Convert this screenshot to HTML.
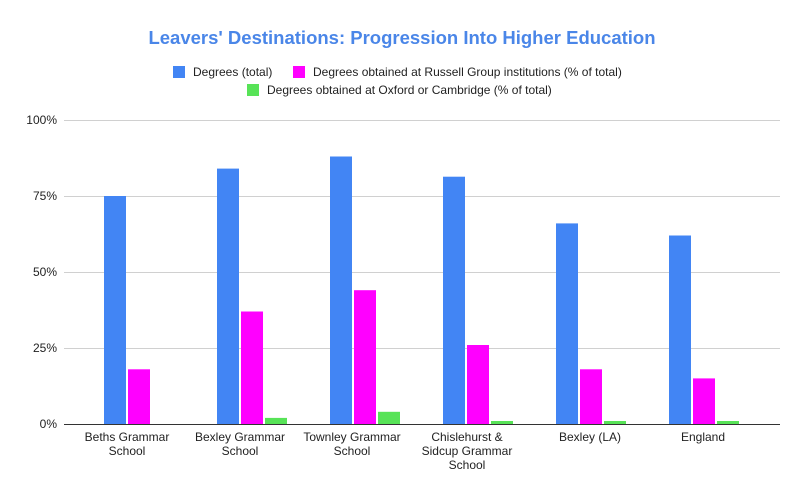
<!DOCTYPE html>
<html><head><meta charset="utf-8"><style>
body{margin:0;background:#fff}
svg{display:block;font-family:"Liberation Sans",Arial,sans-serif}
</style></head><body>
<svg width="804" height="497" viewBox="0 0 804 497" xmlns="http://www.w3.org/2000/svg">
<rect width="804" height="497" fill="#fff"/>
<text x="402" y="44" text-anchor="middle" font-size="18.5" font-weight="bold" fill="#4a86e8">Leavers' Destinations: Progression Into Higher Education</text>
<rect x="173" y="66" width="12" height="12" fill="#4285f4"/>
<text x="193" y="76" font-size="12" fill="#222">Degrees (total)</text>
<rect x="293" y="66" width="12" height="12" fill="#ff00ff"/>
<text x="313" y="76" font-size="12" fill="#222">Degrees obtained at Russell Group institutions (% of total)</text>
<rect x="247" y="84" width="12" height="12" fill="#57e357"/>
<text x="267" y="94" font-size="12" fill="#222">Degrees obtained at Oxford or Cambridge (% of total)</text>
<g stroke="#d0d0d0" stroke-width="1">
<line x1="64" y1="120.5" x2="780" y2="120.5"/>
<line x1="64" y1="196.5" x2="780" y2="196.5"/>
<line x1="64" y1="272.5" x2="780" y2="272.5"/>
<line x1="64" y1="348.5" x2="780" y2="348.5"/>
</g>
<g font-size="12" fill="#222" text-anchor="end">
<text x="57" y="124">100%</text><text x="57" y="200">75%</text><text x="57" y="276">50%</text><text x="57" y="352">25%</text><text x="57" y="428">0%</text>
</g>
<g>
<rect x="104" y="196" width="22" height="228" fill="#4285f4"/><rect x="128" y="369.3" width="22" height="54.7" fill="#ff00ff"/>
<rect x="217" y="168.6" width="22" height="255.4" fill="#4285f4"/><rect x="241" y="311.5" width="22" height="112.5" fill="#ff00ff"/><rect x="265" y="417.9" width="22" height="6.1" fill="#57e357"/>
<rect x="330" y="156.5" width="22" height="267.5" fill="#4285f4"/><rect x="354" y="290.2" width="22" height="133.8" fill="#ff00ff"/><rect x="378" y="411.8" width="22" height="12.2" fill="#57e357"/>
<rect x="443" y="176.7" width="22" height="247.3" fill="#4285f4"/><rect x="467" y="345" width="22" height="79" fill="#ff00ff"/><rect x="491" y="421" width="22" height="3" fill="#57e357"/>
<rect x="556" y="223.4" width="22" height="200.6" fill="#4285f4"/><rect x="580" y="369.3" width="22" height="54.7" fill="#ff00ff"/><rect x="604" y="421" width="22" height="3" fill="#57e357"/>
<rect x="669" y="235.5" width="22" height="188.5" fill="#4285f4"/><rect x="693" y="378.4" width="22" height="45.6" fill="#ff00ff"/><rect x="717" y="421" width="22" height="3" fill="#57e357"/>
</g>
<line x1="64" y1="424.5" x2="780" y2="424.5" stroke="#333" stroke-width="1"/>
<g font-size="12" fill="#222" text-anchor="middle">
<text x="127" y="441">Beths Grammar</text><text x="127" y="455">School</text>
<text x="240" y="441">Bexley Grammar</text><text x="240" y="455">School</text>
<text x="352" y="441">Townley Grammar</text><text x="352" y="455">School</text>
<text x="467" y="441">Chislehurst &amp;</text><text x="467" y="455">Sidcup Grammar</text><text x="467" y="469">School</text>
<text x="590" y="441">Bexley (LA)</text>
<text x="703" y="441">England</text>
</g>
</svg>
</body></html>
